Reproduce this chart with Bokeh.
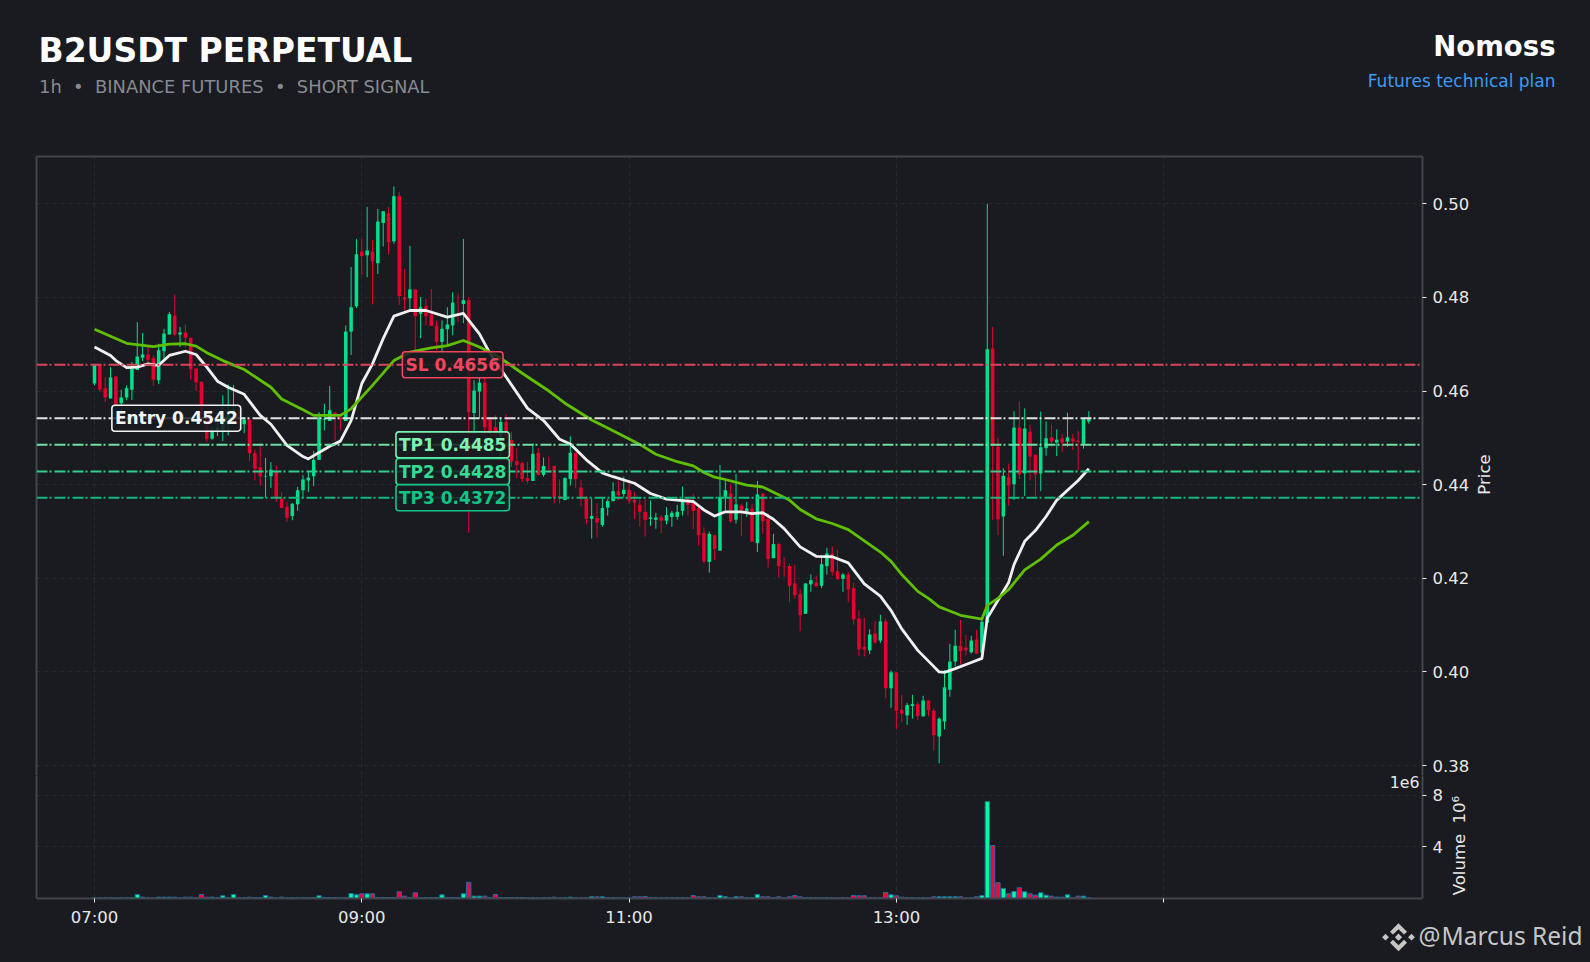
import math

from bokeh.embed import file_html
from bokeh.layouts import column
from bokeh.models import (ColumnDataSource, FixedTicker, Label, LinearAxis,
                          NumeralTickFormatter, Range1d, Span)
from bokeh.plotting import figure
from bokeh.resources import INLINE

opens = [.4616,.4655,.4606,.4584,.4631,.4574,.4586,.4603,.4645,.4671,.4678,.467,.4623,.4685,.4721,.4761,.4721,.4725,.4714,.4648,
.462,.4555,.4498,.4515,.4515,.4528,.455,.4555,.4529,.4539,.4467,.4437,.4417,.4418,.4428,.437,.4353,.4333,.4358,.4388,
.4409,.4418,.4453,.4539,.4536,.4554,.4544,.4536,.4727,.4781,.4898,.489,.4898,.4873,.4959,.4979,.492,.5016,.48,.4798,
.4817,.4765,.4781,.4764,.474,.4705,.4732,.474,.4789,.4786,.4794,.4553,.4599,.4618,.4539,.4523,.4502,.4534,.4495,.445,
.4446,.4414,.4408,.4468,.4421,.4429,.444,.4376,.4367,.4412,.4468,.4394,.4372,.4327,.4329,.4314,.4351,.4365,.4386,.438,
.4389,.4367,.4357,.4342,.4327,.4325,.4331,.4323,.4331,.4331,.4344,.4369,.4362,.4349,.4297,.4235,.4292,.4259,.4374,.4381,
.4325,.4356,.4342,.4349,.4275,.4381,.4327,.4243,.4273,.4226,.4226,.4189,.4166,.4124,.4187,.4191,.4184,.4226,.4253,.4215,
.4199,.4208,.4179,.4114,.4053,.4046,.4082,.4067,.4108,.3965,.3999,.3919,.3907,.3927,.3931,.3905,.3939,.3917,.3862,.3894,
.3962,.4022,.4056,.4052,.4042,.4069,.4041,.4105,.4691,.4481,.4332,.4416,.4401,.4522,.4424,.4513,.4464,.4424,.4478,.4501,
.449,.4499,.4492,.4499,.4494,.4487,.4535]
highs = [.4655,.4655,.463,.4651,.4631,.4603,.4612,.4662,.4747,.4724,.4694,.4676,.4701,.4733,.4769,.4806,.4737,.4742,.4714,.4648,
.462,.456,.4523,.454,.4591,.4614,.4613,.4562,.4544,.4539,.4475,.4487,.4457,.4448,.4441,.4384,.4363,.4361,.4395,.442,
.4427,.4472,.4555,.4573,.4611,.4554,.4544,.474,.4865,.4925,.4925,.4993,.4923,.4989,.4984,.4993,.5037,.5025,.4861,.491,
.4817,.4801,.4797,.4818,.4751,.4751,.4779,.4811,.4808,.4925,.4801,.4623,.463,.463,.4544,.4548,.4544,.4551,.4513,.4478,
.4449,.4449,.4488,.4478,.4458,.446,.444,.4411,.4416,.4503,.4468,.441,.4376,.4371,.436,.4371,.4369,.4405,.4408,.4417,
.441,.4385,.4371,.4369,.4366,.434,.4335,.4352,.4344,.4357,.4396,.4371,.438,.4352,.4309,.43,.4292,.4442,.4409,.4402,
.4423,.4359,.4363,.4359,.4408,.4381,.4339,.4295,.4276,.4245,.4231,.4229,.4178,.4189,.4208,.4206,.4245,.4265,.4268,.4261,
.4211,.4213,.419,.4132,.4116,.4091,.4109,.4122,.4114,.4003,.3999,.3951,.3934,.3951,.3936,.3949,.3939,.3922,.3903,.4004,
.406,.409,.4111,.4079,.4077,.409,.4111,.5,.4737,.45,.4435,.4445,.4557,.4577,.4563,.4528,.4464,.4556,.4535,.4528,
.4518,.4508,.4554,.4508,.4515,.4542,.4557]
lows = [.4612,.4598,.4576,.4584,.4571,.4566,.458,.4581,.4645,.4664,.4662,.4611,.4615,.4665,.4721,.4717,.4694,.4694,.4625,.46,
.4545,.4491,.4496,.4504,.4493,.4505,.4535,.4512,.451,.445,.4409,.4398,.4373,.4393,.4363,.435,.4321,.4324,.4344,.437,
.4384,.4397,.4453,.4516,.4536,.4494,.4516,.4536,.4677,.4777,.4849,.4843,.4785,.485,.4909,.4891,.4915,.4784,.4772,.4772,
.4682,.4713,.474,.4739,.4687,.468,.4694,.4719,.4747,.4745,.4297,.4509,.4541,.4502,.4473,.4495,.4459,.448,.4438,.4414,
.4405,.4403,.4408,.4419,.4417,.4426,.436,.436,.4367,.4398,.4392,.4354,.4315,.4285,.4288,.431,.4334,.4364,.4367,.4374,
.4359,.4327,.431,.4289,.4312,.4306,.4296,.4315,.431,.4325,.4334,.4334,.4305,.427,.4232,.4212,.4239,.4259,.4345,.4318,
.4317,.429,.4331,.4278,.4256,.4295,.4223,.4243,.4201,.4203,.4149,.4157,.4087,.4124,.4171,.4181,.4179,.4208,.4206,.4197,
.4171,.4149,.4101,.4034,.4033,.4038,.406,.4062,.3944,.3923,.3877,.3893,.3887,.39,.3897,.3905,.3905,.3832,.3805,.3877,
.3947,.4012,.4016,.4035,.4039,.4039,.4041,.4105,.4325,.4292,.4248,.4355,.4367,.4412,.4376,.4409,.4374,.4386,.4462,.4481,
.4461,.447,.4481,.4474,.443,.4477,.453]
closes = [.4655,.4603,.4586,.4629,.4571,.4586,.4606,.4648,.4674,.4678,.4667,.4624,.4687,.4723,.4764,.4721,.4725,.4714,.4646,.4618,
.4551,.4498,.4516,.4522,.4535,.4552,.456,.453,.4539,.4467,.4434,.4418,.4418,.4432,.437,.435,.4329,.4359,.4388,.4411,
.4415,.4453,.4544,.4541,.4559,.4548,.4539,.4727,.4779,.4892,.4888,.49,.4877,.4962,.4984,.4918,.5016,.4803,.4796,.4817,
.476,.4779,.476,.4739,.4705,.4733,.4742,.4789,.4788,.4794,.4555,.4601,.4618,.4522,.4509,.4509,.4534,.4502,.4449,.4442,
.4412,.4408,.4466,.4421,.444,.4427,.4373,.4372,.4414,.4468,.4412,.4372,.4327,.4333,.4319,.435,.4365,.4386,.4378,.4389,
.4366,.4362,.4342,.4325,.433,.433,.4323,.4335,.434,.4342,.4369,.4357,.4344,.4292,.4236,.4295,.4263,.4374,.4388,.4322,
.4358,.4345,.4349,.4278,.4379,.4322,.4241,.4273,.4226,.4225,.4184,.4164,.4121,.4189,.4196,.4183,.423,.4253,.4213,.4198,
.4208,.4176,.4112,.4048,.4048,.408,.4063,.4108,.3965,.3999,.3917,.3911,.3929,.3931,.3906,.3939,.3918,.3865,.39,.3967,
.4022,.4056,.4044,.4046,.4067,.4039,.4107,.4689,.4483,.4326,.4419,.4398,.4522,.4422,.452,.446,.4422,.448,.4499,.4492,
.4496,.449,.4501,.4492,.4491,.454,.4542]
volumes_k = ([52]*8 + [312,104,52,52,104,104,104,104,52,104,104,52,312,104,104,52,208,78,312,52,52,104,78,78,234,104,52,104]
 + [52]*5 + [78,208,78,78,78,52,78,390,286,364,364,364,78,78,78,78,520,182,78,442,52,78,78,78,286,78,78,78,364,1250,182,182,182,78,312,78,78,78,78,78]
 + [52]*5 + [104,52,52,104,52,52,52,130,130,130] + [52]*5 + [130,130,156] + [52]*8 + [234,130,130,52,52,234,130,52,130,130,52,52,312,130,130,52,130,52,130,234,130]
 + [52]*9 + [234,208,208,52,52,52,468,286,208,104] + [52]*5 + [130,130,130,130,130,130,52,52,130,234,7500,4100,1220,780,364,546,832,520,364,260,442,260,182,104,104,286,52,182,182,52])

fast_x = [0,3,4,6,8,10,12,14,17,19,21,23,25,28,31,33,36,39,40,44,46,48,50,52,54,56,59,62,66,69,72,74,77,81,84,87,89,92,95,97,101,104,107,110,112,114,116,118,121,123,125,127,129,132,135,138,141,144,147,149,151,154,156,158,159,161,164,166,167,168,171,172,174,176,178,180,184,186]
fast_y = [.4694,.4676,.4665,.465,.4651,.4658,.4655,.4676,.4685,.4678,.4651,.4621,.4608,.4593,.4548,.4529,.4484,.446,.4455,.4482,.4493,.4537,.4616,.4658,.4712,.476,.4772,.4772,.4758,.4766,.4722,.468,.463,.4563,.4537,.4497,.4487,.4453,.4425,.4417,.4403,.4381,.4369,.4366,.4364,.4346,.4333,.4342,.4342,.4338,.434,.4326,.4306,.4267,.4247,.4246,.4233,.4188,.4162,.4131,.4092,.4046,.4023,.4,.3999,.4007,.402,.4029,.4115,.4134,.4191,.4229,.4279,.4302,.4332,.4367,.4409,.4434]
slow_x = [0,3,6,11,14,17,19,21,24,28,33,35,39,41,46,48,52,56,59,63,66,69,72,75,77,80,85,88,93,97,102,105,109,112,114,116,118,122,125,127,130,132,135,138,141,144,147,149,151,154,156,158,160,162,166,167,169,171,174,177,180,183,186]
slow_y = [.4732,.4717,.4702,.4695,.47,.4701,.4696,.4682,.4665,.4646,.4608,.4583,.456,.4548,.4548,.4562,.4612,.4665,.4683,.4692,.4697,.4708,.4694,.4677,.4662,.4638,.46,.4574,.4538,.4515,.4486,.4465,.4449,.444,.4426,.4416,.4411,.4399,.4395,.4384,.4367,.4347,.4327,.4317,.4304,.428,.4256,.4236,.4208,.4172,.4157,.4139,.413,.4121,.4113,.4142,.4157,.4176,.4218,.4241,.4271,.4292,.4321]

level_names = ["Entry", "SL", "TP1", "TP2", "TP3"]
level_prices = [0.4542, 0.4656, 0.4485, 0.4428, 0.4372]
level_colors = ["#f2f2f2", "#f0475f", "#7ef2b0", "#35dc94", "#10c585"]
level_line_colors = ["#e2e2e2", "#d9445a", "#6fe0a2", "#2fce8a", "#12b87c"]
level_pos = [15.3, 67, 67, 67, 67]

price_ticks = [0.38, 0.40, 0.42, 0.44, 0.46, 0.48, 0.50]
vol_ticks = [4000000, 8000000]
time_ticks = [0, 50, 100, 150, 200]
time_labels = {0: "07:00", 50: "09:00", 100: "11:00", 150: "13:00", 200: ""}

BG = "#191b20"
FRAME = "#40454d"
GRID = "#272a30"
TXT = "#e8e8e8"
FONT = "DejaVu Sans"
TICK_SIZE = "16.5px"
UP, DOWN = "#00e08c", "#e6002e"
xr = Range1d(-10.85, 248.41)

n = len(opens)
idx = list(range(n))
rising = [c >= o for o, c in zip(opens, closes)]
src = ColumnDataSource(dict(
    x=idx, low=lows, high=highs,
    top=[max(o, c) for o, c in zip(opens, closes)],
    bottom=[min(o, c) for o, c in zip(opens, closes)],
    color=[UP if r else DOWN for r in rising],
    vol=[v * 1000 for v in volumes_k],
    volcolor=["#00ff9f" if r else "#ff0033" for r in rising],
))


def page_figure(top, bottom):
    # a strip of the page whose data coordinates are the page's own pixels
    f = figure(frame_width=1554, frame_height=bottom - top, x_range=Range1d(36, 1590), y_range=Range1d(bottom, top),
               output_backend="svg", toolbar_location=None, x_axis_location=None, y_axis_location=None,
               min_border_left=36, min_border_right=0, min_border_top=0, min_border_bottom=0)
    f.grid.visible = False
    f.outline_line_color = None
    f.background_fill_alpha = 0
    f.border_fill_alpha = 0
    return f


def blank_axis(p, side):
    ax = LinearAxis(ticker=FixedTicker(ticks=[]), major_tick_out=0, major_tick_in=0, minor_tick_out=0,
                    minor_tick_in=0, major_label_standoff=0, major_label_text_font_size="0px",
                    axis_line_color=FRAME, axis_line_width=2)
    p.add_layout(ax, side)


def style_base(p):
    p.background_fill_color = BG
    p.border_fill_color = BG
    p.outline_line_color = None
    p.xgrid.ticker = FixedTicker(ticks=time_ticks)
    for g in (p.xgrid, p.ygrid):
        g.grid_line_color = GRID
        g.grid_line_dash = "4 4"
        g.grid_line_width = 1


def style_right(ax):
    ax.axis_line_color = FRAME
    ax.axis_line_width = 2
    ax.major_tick_line_color = TXT
    ax.major_tick_out = 4
    ax.major_tick_in = 0
    ax.minor_tick_out = 0
    ax.minor_tick_in = 0
    ax.major_label_text_color = TXT
    ax.major_label_text_font = FONT
    ax.major_label_text_font_size = TICK_SIZE
    ax.major_label_standoff = 6


# ---- header strip ----
h = page_figure(0, 148)


def header(text, x, y, size, color, bold=False, align="left"):
    h.add_layout(Label(x=x, y=y, text=text, text_color=color, text_font=FONT, text_font_size=size,
                       text_align=align, text_baseline="alphabetic",
                       text_font_style="bold" if bold else "normal"))


header("B2USDT PERPETUAL", 38, 49.5, "33px", "#ffffff", bold=True)
header("1h\u00a0\u00a0\u2022\u00a0\u00a0BINANCE FUTURES\u00a0\u00a0\u2022\u00a0\u00a0SHORT SIGNAL", 38.5, 85.6, "17.9px", "#878a90")
header("Nomoss", 1555, 45.3, "27.5px", "#ffffff", bold=True, align="right")
header("Futures technical plan", 1555, 80, "17px", "#3d9bf5", align="right")

# ---- price pane ----
p = figure(frame_width=1386, frame_height=619, x_range=xr, y_range=Range1d(0.37787, 0.5101),
           output_backend="svg", toolbar_location=None, x_axis_location=None, y_axis_location="right",
           min_border_left=36, min_border_right=168, min_border_top=8, min_border_bottom=0)
style_base(p)
p.yaxis.ticker = FixedTicker(ticks=price_ticks)
p.yaxis.formatter = NumeralTickFormatter(format="0.00")
style_right(p.yaxis[0])
p.ygrid.ticker = FixedTicker(ticks=price_ticks)
blank_axis(p, "left")
blank_axis(p, "above")

p.segment("x", "low", "x", "high", source=src, color="color", line_width=1)
p.vbar("x", 0.66, "bottom", "top", source=src, fill_color="color", line_color=None)

for price, col in zip(level_prices, level_line_colors):
    p.add_layout(Span(location=price, dimension="width", line_color=col, line_width=2, line_dash="11 2 2 3"))

p.line(fast_x, fast_y, line_color="#f0f0f0", line_width=2.8, line_join="round")
p.line(slow_x, slow_y, line_color="#5fbf00", line_width=2.8, line_join="round")

for name, price, col, xpos in zip(level_names, level_prices, level_colors, level_pos):
    p.add_layout(Label(x=xpos, y=price, text=f"{name} {price:.4f}", text_color=col, text_font=FONT,
                       text_font_style="bold", text_font_size="17px", text_align="center", text_baseline="middle",
                       background_fill_color=BG, background_fill_alpha=0.85, border_line_color=col,
                       border_line_width=1.6, border_radius=3, padding=3))

# ---- volume pane ----
v = figure(frame_width=1386, frame_height=123, x_range=xr, y_range=Range1d(0, 9516000),
           output_backend="svg", toolbar_location=None, y_axis_location="right",
           min_border_left=36, min_border_right=168, min_border_top=0, min_border_bottom=30)
style_base(v)
v.yaxis.ticker = FixedTicker(ticks=vol_ticks)
v.yaxis.major_label_overrides = {4000000: "4", 8000000: "8"}
style_right(v.yaxis[0])
v.ygrid.ticker = FixedTicker(ticks=vol_ticks)
blank_axis(v, "left")
xa = v.xaxis[0]
xa.ticker = FixedTicker(ticks=time_ticks)
xa.major_label_overrides = time_labels
xa.axis_line_color = FRAME
xa.axis_line_width = 2
xa.major_tick_line_color = TXT
xa.major_tick_out = 4
xa.major_tick_in = 0
xa.minor_tick_out = 0
xa.minor_tick_in = 0
xa.major_label_text_color = TXT
xa.major_label_text_font = FONT
xa.major_label_text_font_size = TICK_SIZE
xa.major_label_standoff = 5

v.vbar("x", 0.8, 0, "vol", source=src, fill_color="volcolor", line_color="#1f6fae", line_width=1)

# ---- transparent overlay strip: rotated axis titles, exponent note and the watermark ----
OVERLAY_TOP, OVERLAY_BOTTOM, STACK_BOTTOM = 400, 961, 928
f = page_figure(OVERLAY_TOP, OVERLAY_BOTTOM)
f.margin = (OVERLAY_TOP - STACK_BOTTOM, 0, 0, 0)
for text, x, y in [("Price", 1483.5, 473), ("Volume\u00a0\u00a010\u2076", 1459.3, 844)]:
    f.add_layout(Label(x=x, y=y, text=text, text_color=TXT, text_font=FONT, text_font_size=TICK_SIZE,
                       text_align="center", text_baseline="middle", angle=math.pi / 2, angle_units="rad"))
f.add_layout(Label(x=1419, y=780.6, text="1e6", text_color=TXT, text_font=FONT, text_font_size="15.8px",
                   text_align="right", text_baseline="alphabetic"))
f.add_layout(Label(x=1582, y=934, text="Marcus Reid", text_color="#c6c6c6", text_font="Noto Sans",
                   text_font_size="24.5px", text_align="right", text_baseline="alphabetic"))
f.add_layout(Label(x=1418, y=934, text="@", text_color="#c6c6c6", text_font="Noto Sans",
                   text_font_size="24.5px", text_align="left", text_baseline="alphabetic"))

# Binance-style logo, drawn relative to its own centre
LOGO_CX, LOGO_CY = 1398, 935.7
logo_parts = [
    [(-13, -3.4), (-9.6, 0), (-13, 3.4), (-16.4, 0)],
    [(13, -3.4), (16.4, 0), (13, 3.4), (9.6, 0)],
    [(0, -3.6), (3.6, 0), (0, 3.6), (-3.6, 0)],
    [(0, -14), (8.5, -5.5), (5.5, -2.6), (0, -8), (-5.5, -2.6), (-8.5, -5.5)],
    [(0, 14), (8.5, 5.5), (5.5, 2.6), (0, 8), (-5.5, 2.6), (-8.5, 5.5)],
]
f.patches([[LOGO_CX + a for a, b in part] for part in logo_parts],
          [[LOGO_CY + b for a, b in part] for part in logo_parts],
          fill_color="#c6c6c6", line_color=None)

page = column(h, p, v, f, spacing=0)
html = file_html(page, INLINE)
html = html.replace("<head>", f"<head><style>html,body{{background:{BG};overflow:hidden;}}</style>", 1)
open("out.html", "w").write(html)
